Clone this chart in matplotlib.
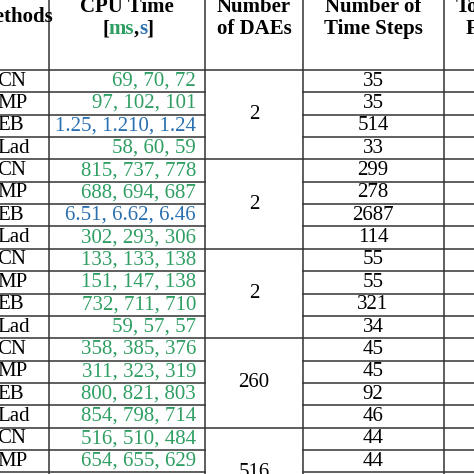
import matplotlib
matplotlib.use("Agg")
import matplotlib.pyplot as plt

methods = ["CN", "MP", "EB", "Lad"] * 4 + ["CN", "MP"]
cpu_times = ["69, 70, 72", "97, 102, 101", "1.25, 1.210, 1.24", "58, 60, 59",
             "815, 737, 778", "688, 694, 687", "6.51, 6.62, 6.46", "302, 293, 306",
             "133, 133, 138", "151, 147, 138", "732, 711, 710", "59, 57, 57",
             "358, 385, 376", "311, 323, 319", "800, 821, 803", "854, 798, 714",
             "516, 510, 484", "654, 655, 629"]
cpu_unit = ["ms", "ms", "s", "ms", "ms", "ms", "s", "ms",
            "ms", "ms", "ms", "ms", "ms", "ms", "ms", "ms", "ms", "ms"]
time_steps = [35, 35, 514, 33, 299, 278, 2687, 114, 55, 55, 321, 34,
              45, 45, 92, 46, 44, 44]
daes = [2, 2, 2, 260, 516]

GREEN = "#2e9e62"
BLUE = "#2a70b0"
LINE = "#333333"
font = "Liberation Serif"

fig = plt.figure(figsize=(4.74, 4.74), dpi=100)
ax = fig.add_axes([0, 0, 1, 1])
ax.set_xlim(0, 474)
ax.set_ylim(474, 0)
ax.axis("off")

cols = [49, 205, 303, 444]
top = 70
rh = 22.35
nrows = len(methods)

for x in cols:
    ax.plot([x, x], [0, 474], color=LINE, lw=1.1, clip_on=True)
for i in range(nrows + 1):
    y = top + i * rh
    if i % 4 == 0:
        ax.plot([0, 474], [y, y], color=LINE, lw=1.1)
    else:
        ax.plot([0, cols[1]], [y, y], color=LINE, lw=1.1)
        ax.plot([cols[2], 474], [y, y], color=LINE, lw=1.1)

kw = dict(family=font, fontsize=15, va="center", clip_on=True)
hk = dict(kw, fontweight="bold")

# header
ax.text(-24, 17, "Methods", ha="left", **hk)
ax.text(127, 7, "CPU Time", ha="center", **hk)
ax.text(127, 29, "[ms,s]", ha="center", color="none", **hk)
ax.text(103, 29, "[", ha="left", color="black", **hk)
ax.text(108, 29, "ms", ha="left", color=GREEN, **hk)
ax.text(134, 29, ",", ha="left", color="black", **hk)
ax.text(139, 29, "s", ha="left", color=BLUE, **hk)
ax.text(146, 29, "]", ha="left", color="black", **hk)
ax.text(254, 7, "Number", ha="center", **hk)
ax.text(254, 29, "of DAEs", ha="center", **hk)
ax.text(373, 7, "Number of", ha="center", **hk)
ax.text(373, 29, "Time Steps", ha="center", **hk)
ax.text(456, 7, "Total", ha="left", **hk)
ax.text(466, 29, "F", ha="left", **hk)

for i in range(nrows):
    yc = top + (i + 0.5) * rh
    ax.text(-3, yc, methods[i], ha="left", **kw)
    ax.text(196, yc, cpu_times[i], ha="right",
            color=GREEN if cpu_unit[i] == "ms" else BLUE, **kw)
    ax.text(373, yc, str(time_steps[i]), ha="center", **kw)

for g, d in enumerate(daes):
    yc = top + (g * 4 + 2) * rh
    ax.text(254, yc, str(d), ha="center", **kw)

fig.savefig("out.png", dpi=100)
